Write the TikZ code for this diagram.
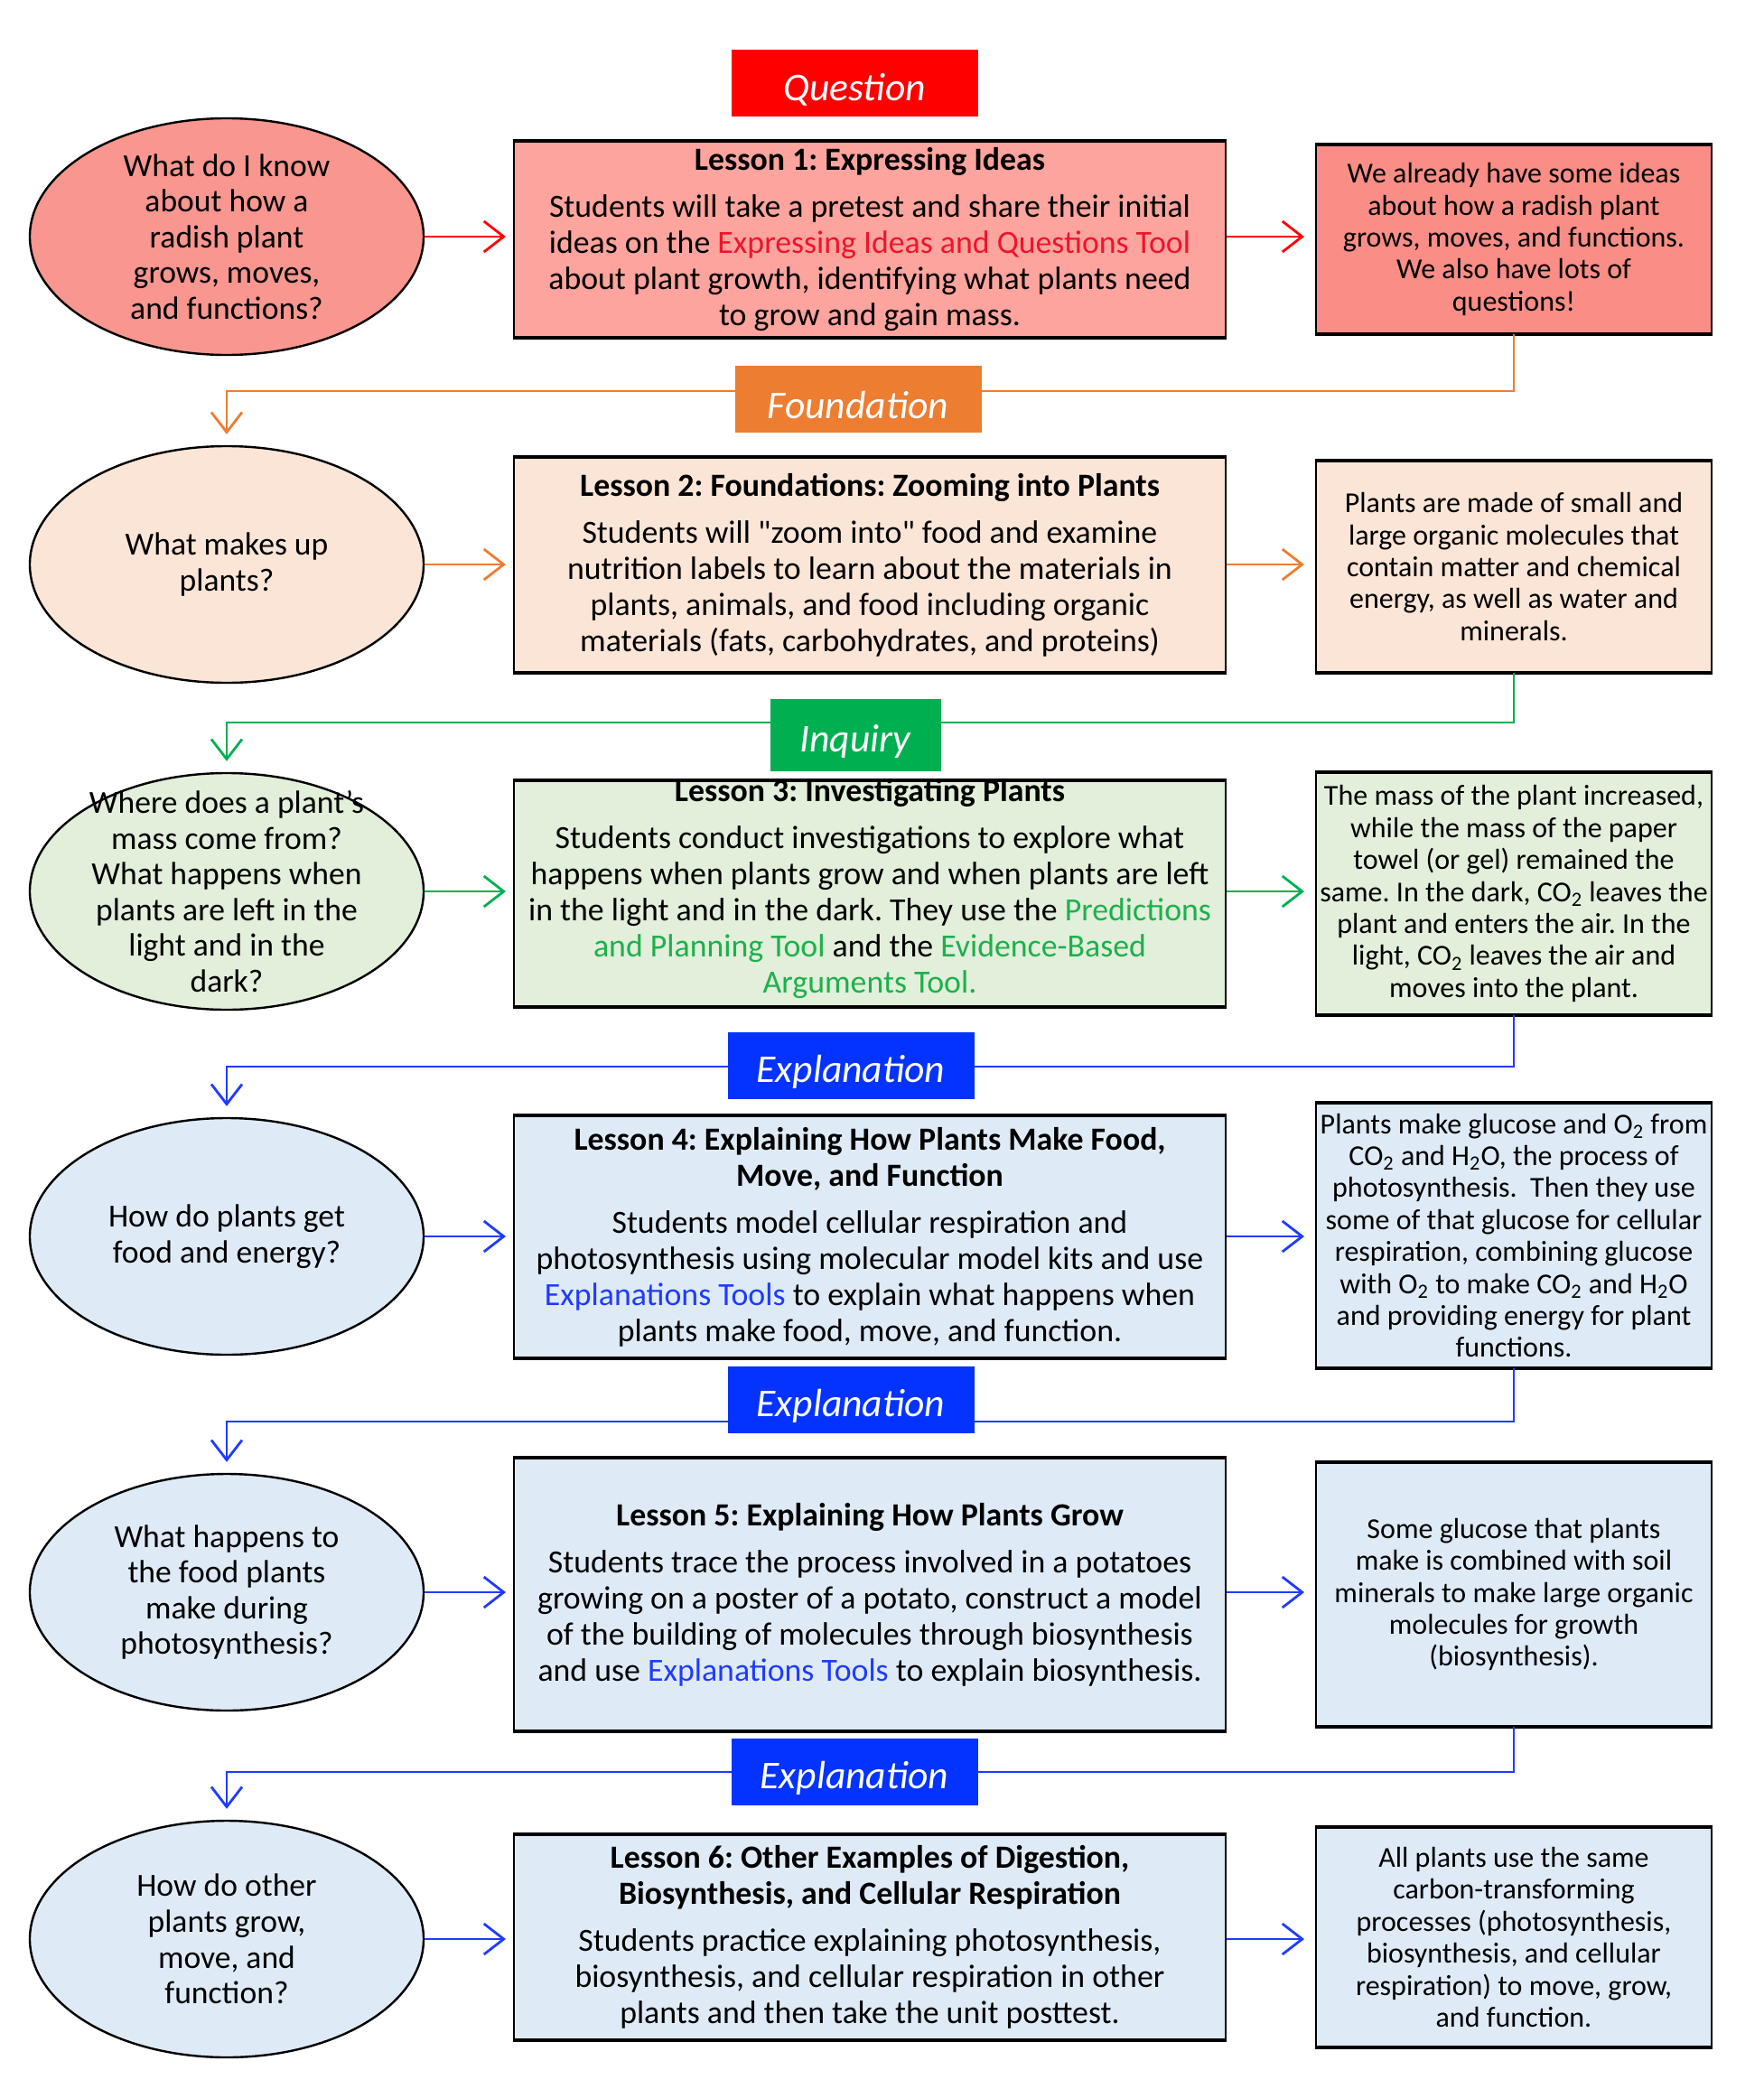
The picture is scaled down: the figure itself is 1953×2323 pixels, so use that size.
\documentclass[tikz,border=0pt]{standalone}
\usepackage{fontspec}
\setmainfont{Carlito}
\usetikzlibrary{arrows.meta,shapes.geometric}
\definecolor{qred}{HTML}{FF0000}
\definecolor{forange}{HTML}{ED7D31}
\definecolor{igreen}{HTML}{00B050}
\definecolor{eblue}{HTML}{0433FF}
\definecolor{rowAe}{HTML}{F8968F}
\definecolor{rowAl}{HTML}{FCA49D}
\definecolor{rowAr}{HTML}{FA8E86}
\definecolor{peach}{HTML}{FBE5D6}
\definecolor{lgreen}{HTML}{E2EFDA}
\definecolor{lblue}{HTML}{DEEBF7}
\definecolor{linkred}{HTML}{F0142B}
\definecolor{linkgreen}{HTML}{1DB04B}
\definecolor{linkblue}{HTML}{1F3BFF}
\frenchspacing
\begin{document}
\begin{tikzpicture}[x=0.5pt,y=-0.5pt,
  ell/.style={ellipse, draw=black, line width=1.2pt, fill=#1, minimum width=218pt, minimum height=131pt, inner sep=0pt},
  etext/.style={align=center, font=\fontsize{17.8}{19.8}\selectfont, inner sep=0pt},
  lbox/.style={rectangle, draw=black, line width=1pt, fill=#1, minimum width=394pt, inner sep=0pt},
  rbox/.style={rectangle, draw=black, line width=1pt, fill=#1, minimum width=219pt, inner sep=0pt},
  ltext/.style={align=center, font=\fontsize{17.9}{20}\selectfont, inner sep=0pt},
  rtext/.style={align=center, font=\fontsize{16}{17.7}\selectfont, inner sep=0pt},
  tag/.style={fill=#1, minimum height=37pt, minimum width=136.5pt, inner sep=0pt},
  tagtext/.style={text=white, font=\fontsize{21.8}{24}\selectfont\itshape, inner sep=0pt},
  flow/.style={draw=#1, line width=1.4pt, -{Straight Barb[length=11pt,width=17pt]}}
]
\useasboundingbox (0,0) rectangle (1953,2323);

% ---------- Row 1 ----------
\node[ell=rowAe] (E1) at (251,262) {};
\node[etext] (E1t) at (E1) {What do I know\\about how a\\radish plant\\grows, moves,\\and functions?};
\node[lbox=rowAl, minimum height=108pt] (L1) at (963,265) {};
\node[ltext] (L1t) at (L1) {\textbf{Lesson 1: Expressing Ideas}\\[6pt]Students will take a pretest and share their initial\\ideas on the \textcolor{linkred}{Expressing Ideas and Questions Tool}\\about plant growth, identifying what plants need\\to grow and gain mass.};
\node[rbox=rowAr, minimum height=104pt] (R1) at (1676,265) {};
\node[rtext] (R1t) at (R1) {We already have some ideas\\about how a radish plant\\grows, moves, and functions.\\We also have lots of\\questions!};

% ---------- Row 2 ----------
\node[ell=peach] (E2) at (251,625) {};
\node[etext] (E2t) at (E2) {What makes up\\plants?};
\node[lbox=peach, minimum height=118.5pt] (L2) at (963,625.5) {};
\node[ltext] (L2t) at (L2) {\textbf{Lesson 2: Foundations: Zooming into Plants}\\[6pt]Students will \textquotedbl zoom into\textquotedbl\ food and examine\\nutrition labels to learn about the materials in\\plants, animals, and food including organic\\materials (fats, carbohydrates, and proteins)};
\node[rbox=peach, minimum height=116.5pt] (R2) at (1676,627.5) {};
\node[rtext] (R2t) at (R2) {Plants are made of small and\\large organic molecules that\\contain matter and chemical\\energy, as well as water and\\minerals.};

% ---------- Row 3 ----------
\node[ell=lgreen] (E3) at (251,987) {};
\node[etext] (E3t) at (E3) {Where does a plant's\\mass come from?\\What happens when\\plants are left in the\\light and in the\\dark?};
\node[lbox=lgreen, minimum height=124.5pt] (L3) at (963,989.5) {};
\node[ltext] (L3t) at (963,984) {\textbf{Lesson 3: Investigating Plants}\\[6pt]Students conduct investigations to explore what\\happens when plants grow and when plants are left\\in the light and in the dark. They use the \textcolor{linkgreen}{Predictions}\\\textcolor{linkgreen}{and Planning Tool} and the \textcolor{linkgreen}{Evidence-Based}\\\textcolor{linkgreen}{Arguments Tool.}};
\node[rbox=lgreen, minimum height=133.5pt] (R3) at (1676,989.5) {};
\node[rtext] (R3t) at (R3) {The mass of the plant increased,\\while the mass of the paper\\towel (or gel) remained the\\same. In the dark, CO\textsubscript{2} leaves the\\plant and enters the air. In the\\light, CO\textsubscript{2} leaves the air and\\moves into the plant.};

% ---------- Row 4 ----------
\node[ell=lblue] (E4) at (251,1369) {};
\node[etext] (E4t) at (E4) {How do plants get\\food and energy?};
\node[lbox=lblue, minimum height=133.5pt] (L4) at (963,1369.5) {};
\node[ltext] (L4t) at (L4) {\textbf{Lesson 4: Explaining How Plants Make Food,}\\\textbf{Move, and Function}\\[6pt]Students model cellular respiration and\\photosynthesis using molecular model kits and use\\\textcolor{linkblue}{Explanations Tools} to explain what happens when\\plants make food, move, and function.};
\node[rbox=lblue, minimum height=146pt] (R4) at (1676,1368) {};
\node[rtext] (R4t) at (R4) {Plants make glucose and O\textsubscript{2} from\\CO\textsubscript{2} and H\textsubscript{2}O, the process of\\photosynthesis.\ \ Then they use\\some of that glucose for cellular\\respiration, combining glucose\\with O\textsubscript{2} to make CO\textsubscript{2} and H\textsubscript{2}O\\and providing energy for plant\\functions.};

% ---------- Row 5 ----------
\node[ell=lblue] (E5) at (251,1763) {};
\node[etext] (E5t) at (E5) {What happens to\\the food plants\\make during\\photosynthesis?};
\node[lbox=lblue, minimum height=150.5pt] (L5) at (963,1765.5) {};
\node[ltext] (L5t) at (L5) {\textbf{Lesson 5: Explaining How Plants Grow}\\[6pt]Students trace the process involved in a potatoes\\growing on a poster of a potato, construct a model\\of the building of molecules through biosynthesis\\and use \textcolor{linkblue}{Explanations Tools} to explain biosynthesis.};
\node[rbox=lblue, minimum height=145.5pt] (R5) at (1676,1765.5) {};
\node[rtext] (R5t) at (R5) {Some glucose that plants\\make is combined with soil\\minerals to make large organic\\molecules for growth\\(biosynthesis).};

% ---------- Row 6 ----------
\node[ell=lblue] (E6) at (251,2147) {};
\node[etext] (E6t) at (E6) {How do other\\plants grow,\\move, and\\function?};
\node[lbox=lblue, minimum height=113pt] (L6) at (963,2145) {};
\node[ltext] (L6t) at (L6) {\textbf{Lesson 6: Other Examples of Digestion,}\\\textbf{Biosynthesis, and Cellular Respiration}\\[6pt]Students practice explaining photosynthesis,\\biosynthesis, and cellular respiration in other\\plants and then take the unit posttest.};
\node[rbox=lblue, minimum height=121pt] (R6) at (1676,2145) {};
\node[rtext] (R6t) at (R6) {All plants use the same\\carbon-transforming\\processes (photosynthesis,\\biosynthesis, and cellular\\respiration) to move, grow,\\and function.};

% thick top and bottom edges
\foreach \n in {L1,R1,L2,R2,L3,R3,L4,R4,L5,R5,L6,R6}{
  \draw[line width=2.2pt] (\n.north west) -- (\n.north east) (\n.south west) -- (\n.south east);
}

% ---------- row arrows ----------
\foreach \r/\c in {1/qred,2/forange,3/igreen,4/linkblue,5/linkblue,6/linkblue}{
  \draw[flow=\c, shorten >=4pt] (E\r.east) -- (E\r.east -| L\r.west);
  \draw[flow=\c, shorten >=6pt] (E\r.east -| L\r.east) -- (E\r.east -| R\r.west);
}

% ---------- connectors between rows ----------
\coordinate (c1) at (251,433);
\coordinate (c2) at (251,800);
\coordinate (c3) at (251,1181);
\coordinate (c4) at (251,1574);
\coordinate (c5) at (251,1962);
\draw[flow=forange, shorten >=6pt] (R1.south) |- (c1) -- (E2.north);
\draw[flow=igreen, shorten >=6pt] (R2.south) |- (c2) -- (E3.north);
\draw[flow=linkblue, shorten >=6pt] (R3.south) |- (c3) -- (E4.north);
\draw[flow=linkblue, shorten >=6pt] (R4.south) |- (c4) -- (E5.north);
\draw[flow=linkblue, shorten >=6pt] (R5.south) |- (c5) -- (E6.north);

% ---------- phase tags ----------
\node[tag=qred] (Tq) at (946,92) {};
\node[tag=forange] (Tf) at (950,442) {};
\node[tag=igreen, minimum width=94.5pt, minimum height=40pt] (Ti) at (947,814) {};
\node[tag=eblue] (Te1) at (942,1180) {};
\node[tag=eblue] (Te2) at (942,1550) {};
\node[tag=eblue] (Te3) at (946,1962) {};
\node[tagtext] (Tqt) at ([yshift=-3.5pt]Tq.center) {Question};
\node[tagtext] (Tft) at ([yshift=-3.5pt]Tf.center) {Foundation};
\node[tagtext] (Tit) at ([yshift=-3.5pt]Ti.center) {Inquiry};
\node[tagtext] (Te1t) at ([yshift=-3.5pt]Te1.center) {Explanation};
\node[tagtext] (Te2t) at ([yshift=-3.5pt]Te2.center) {Explanation};
\node[tagtext] (Te3t) at ([yshift=-3.5pt]Te3.center) {Explanation};
\end{tikzpicture}
\end{document}
